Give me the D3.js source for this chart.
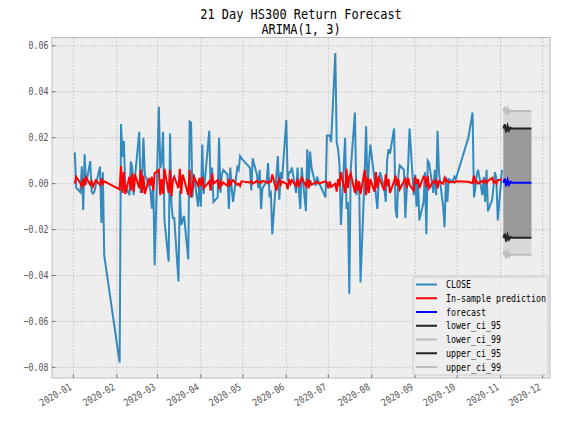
<!DOCTYPE html>
<html>
<head>
<meta charset="utf-8">
<script src="https://cdn.jsdelivr.net/npm/d3@7"></script>
<style>
  body { margin: 0; background: #fff; }
  text { font-family: "DejaVu Sans Mono", "Liberation Mono", monospace; }
</style>
</head>
<body>
<div id="chart"></div>
<script>
// trading days (day of month) of 2020 and the daily CLOSE returns
const janDays = [2,3,6,7,8,9,10,13,14,15,16,17,20,21,22,23];
const janClose = [0.0136,-0.0018,-0.0038,0.0075,-0.0115,0.0128,-0.0004,0.0098,-0.0034,-0.0043,-0.0035,-0.0006,0.0074,-0.0171,0.0050,-0.0313];
const febDays = [3,4,5,6,7,10,11,12,13,14,17,18,19,20,21,24,25,26,27,28];
const febClose = [-0.0779,0.0260,0.0118,0.0186,-0.0010,-0.0050,0.0096,0.0070,-0.0050,0.0030,0.0226,-0.0040,0.0020,0.0200,0.0040,-0.0010,-0.0030,-0.0109,0.0009,-0.0355];
const marDays = [2,3,4,5,6,9,10,11,12,13,16,17,18,19,20,23,24,25,26,27,30,31];
const marClose = [0.0335,0.0067,0.0096,0.0226,-0.0160,-0.0340,0.0218,-0.0090,-0.0150,-0.0150,-0.0426,-0.0030,-0.0180,-0.0160,-0.0140,-0.0330,0.0270,0.0265,-0.0060,0.0040,-0.0100,0.0010];
const aprDays = [1,2,3,7,8,9,10,13,14,15,16,17,20,21,22,23,24,27,28,29,30];
const aprClose = [-0.0100,0.0170,-0.0045,0.0230,-0.0030,0.0070,-0.0080,-0.0060,0.0200,-0.0040,0.0040,0.0060,0.0040,-0.0110,0.0070,-0.0020,-0.0080,0.0070,0.0060,0.0120,0.0110];
const mayDays = [6,7,8,11,12,13,14,15,18,19,20,21,22,25,26,27,28,29];
const mayClose = [0.0070,-0.0030,0.0110,0.0040,-0.0020,0.0060,-0.0110,-0.0020,0.0010,0.0090,-0.0050,-0.0040,-0.0220,0.0040,0.0120,-0.0070,0.0050,0.0020];
const junDays = [1,2,3,4,5,8,9,10,11,12,15,16,17,18,19,22,23,24,29,30];
const junClose = [0.0277,0.0010,0.0050,0.0050,0.0070,-0.0040,0.0070,-0.0030,-0.0110,0.0070,-0.0120,0.0150,-0.0010,0.0140,0.0070,-0.0010,0.0030,0.0010,-0.0060,0.0210];
const julDays = [1,2,3,6,7,8,9,10,13,14,15,16,17,20,21,22,23,24,27,28,29,30,31];
const julClose = [0.0210,0.0210,0.0180,0.0569,0.0180,0.0150,0.0080,-0.0180,0.0200,-0.0110,-0.0080,-0.0480,0.0060,0.0310,-0.0050,-0.0010,0.0010,-0.0430,0.0050,0.0250,-0.0035,0.0080,0.0170];
const augDays = [3,4,5,6,7,10,11,12,13,14,17,18,19,20,21,24,25,26,27,28,31];
const augClose = [0.0020,-0.0050,-0.0110,0.0010,0.0050,-0.0020,-0.0080,0.0100,0.0150,0.0130,0.0240,-0.0110,-0.0150,0.0030,0.0080,0.0060,-0.0150,-0.0030,0.0080,0.0240,-0.0050];
const sepDays = [1,2,3,4,7,8,9,10,11,14,15,16,17,18,21,22,23,24,25,28,29,30];
const sepClose = [0.0040,-0.0100,0.0020,-0.0160,-0.0080,0.0050,-0.0220,0.0100,0.0090,-0.0040,0.0060,-0.0050,0.0230,0.0050,-0.0100,-0.0190,0.0030,-0.0080,0.0020,0.0010,0.0030,0.0020];
const octDays = [9,12,13,14,15,16,19,20,21,22,23,26,27,28,29,30];
const octClose = [0.0200,0.0310,-0.0060,-0.0020,0.0040,0.0060,-0.0050,0.0030,-0.0080,0.0060,-0.0120,-0.0070,-0.0010,0.0050,0.0020,-0.0160];
const novDays = [2];
const novClose = [0.0060];

// in-sample prediction, same days
const janPred = [0.0000,0.0030,0.0002,-0.0012,0.0022,-0.0008,0.0028,-0.0005,0.0010,-0.0012,0.0002,0.0015,-0.0006,0.0022,0.0000,0.0010];
const febPred = [-0.0025,0.0077,-0.0040,0.0050,-0.0045,0.0030,-0.0030,0.0045,-0.0035,0.0040,-0.0020,0.0060,-0.0040,0.0035,-0.0045,0.0025,-0.0010,0.0030,-0.0030,0.0045];
const marPred = [0.0060,-0.0050,0.0020,-0.0045,0.0065,-0.0040,0.0060,-0.0055,0.0015,0.0030,-0.0020,0.0065,-0.0045,0.0040,0.0020,-0.0050,0.0060,-0.0060,-0.0020,0.0030,-0.0010,0.0025];
const aprPred = [-0.0010,0.0030,-0.0020,0.0010,-0.0030,0.0045,0.0000,0.0015,-0.0025,0.0010,-0.0005,0.0005,-0.0010,0.0020,-0.0010,0.0010,0.0015,-0.0005,0.0000,-0.0010,0.0010];
const mayPred = [0.0005,0.0010,0.0000,0.0012,0.0005,0.0008,0.0004,0.0012,0.0006,0.0002,0.0010,0.0008,0.0040,-0.0030,0.0005,0.0020,-0.0005,0.0010];
const junPred = [0.0000,-0.0025,0.0020,0.0000,0.0015,-0.0010,0.0020,-0.0015,0.0010,0.0025,-0.0010,0.0020,-0.0020,0.0015,-0.0005,0.0005,0.0008,0.0000,0.0010,0.0005];
const julPred = [-0.0020,0.0010,-0.0015,0.0000,-0.0035,0.0020,-0.0010,0.0050,-0.0040,0.0065,-0.0020,0.0030,0.0045,-0.0040,0.0020,-0.0030,0.0010,-0.0045,0.0060,-0.0050,0.0030,-0.0040,0.0020];
const augPred = [-0.0035,0.0050,-0.0020,0.0025,0.0015,-0.0030,0.0040,-0.0010,0.0020,-0.0040,0.0010,0.0035,-0.0010,0.0020,-0.0025,0.0010,0.0020,-0.0020,0.0025,-0.0005,-0.0030];
const sepPred = [0.0030,0.0000,0.0020,-0.0020,0.0030,0.0025,-0.0015,0.0035,-0.0020,0.0010,0.0005,0.0015,-0.0020,0.0010,0.0000,0.0025,0.0010,0.0015,0.0005,0.0008,0.0005,0.0010];
const octPred = [0.0008,0.0002,0.0035,0.0005,0.0010,0.0000,0.0012,0.0005,0.0015,0.0002,0.0012,0.0025,0.0005,0.0010,0.0000,0.0015];
const novPred = [0.0018];

// 21 day forecast (November) with confidence bounds
const fcDays = [3,4,5,6,7,8,9,10,11,12,13,14,15,16,17,18,19,20,21,22,23];
const forecast = [0.0004,0.0022,-0.0012,0.0016,-0.0004,0.0008,0.0004,0.0004,0.0004,0.0004,0.0004,0.0004,0.0004,0.0004,0.0004,0.0004,0.0004,0.0004,0.0004,0.0004,0.0004];
const lower95 = [-0.0236,-0.0218,-0.0252,-0.0224,-0.0244,-0.0232,-0.0236,-0.0236,-0.0236,-0.0236,-0.0236,-0.0236,-0.0236,-0.0236,-0.0236,-0.0236,-0.0236,-0.0236,-0.0236,-0.0236,-0.0236];
const upper95 = [0.0240,0.0258,0.0224,0.0252,0.0232,0.0244,0.0240,0.0240,0.0240,0.0240,0.0240,0.0240,0.0240,0.0240,0.0240,0.0240,0.0240,0.0240,0.0240,0.0240,0.0240];
const lower99 = [-0.0310,-0.0292,-0.0326,-0.0298,-0.0318,-0.0306,-0.0310,-0.0310,-0.0310,-0.0310,-0.0310,-0.0310,-0.0310,-0.0310,-0.0310,-0.0310,-0.0310,-0.0310,-0.0310,-0.0310,-0.0310];
const upper99 = [0.0316,0.0334,0.0300,0.0328,0.0308,0.0320,0.0316,0.0316,0.0316,0.0316,0.0316,0.0316,0.0316,0.0316,0.0316,0.0316,0.0316,0.0316,0.0316,0.0316,0.0316];

const xLimits = ["2019-12-16T17:00", "2020-12-06T07:00"];
const yTicks = [-0.08,-0.06,-0.04,-0.02,0.00,0.02,0.04,0.06];
const titleLines = ["21 Day HS300 Return Forecast", "ARIMA(1, 3)"];
const legendLabels = ["CLOSE","In-sample prediction","forecast","lower_ci_95","lower_ci_99","upper_ci_95","upper_ci_99"];

// build the series
const monthDays = [janDays,febDays,marDays,aprDays,mayDays,junDays,julDays,augDays,sepDays,octDays,novDays];
const monthClose = [janClose,febClose,marClose,aprClose,mayClose,junClose,julClose,augClose,sepClose,octClose,novClose];
const monthPred = [janPred,febPred,marPred,aprPred,mayPred,junPred,julPred,augPred,sepPred,octPred,novPred];
let closeData = [], predData = [];
monthDays.forEach(function (days, m) {
  days.forEach(function (d, i) {
    let dt = new Date(2020, m, d);
    closeData.push({ date: dt, value: monthClose[m][i] });
    predData.push({ date: dt, value: monthPred[m][i] });
  });
});
let fcData = fcDays.map(function (d, i) {
  return { date: new Date(2020, 10, d), fc: forecast[i], lo95: lower95[i], hi95: upper95[i], lo99: lower99[i], hi99: upper99[i] };
});

// dimensions
let margin = { top: 37.5, right: 26, bottom: 44, left: 52 },
  w = 576 - margin.left - margin.right,
  h = 422 - margin.top - margin.bottom;

let svg = d3.select("#chart").append("svg")
  .attr("width", 576).attr("height", 422);
let g = svg.append("g")
  .attr("transform", "translate(" + margin.left + "," + margin.top + ")");

// half-width glyphs like the original CJK font
function mono(sel, size) {
  sel.attr("font-size", size)
    .attr("textLength", function () { return this.textContent.length * size * 0.5; })
    .attr("lengthAdjust", "spacingAndGlyphs");
}

// scales
let x = d3.scaleTime()
  .domain(xLimits.map(s => new Date(s)))
  .range([0, w]);
let allVals = closeData.map(d => d.value).concat(lower99, upper99);
let yExt = d3.extent(allVals), yPad = (yExt[1] - yExt[0]) * 0.05;
let y = d3.scaleLinear()
  .domain([yExt[0] - yPad, yExt[1] + yPad])
  .range([h, 0]);

// background
g.append("rect").attr("width", w).attr("height", h).attr("fill", "#eeeeee");

let xTicks = d3.timeMonth.range(new Date(2020, 0, 1), new Date(2020, 11, 2));

// grid
g.append("g").selectAll("line").data(xTicks).enter().append("line")
  .attr("x1", d => x(d)).attr("x2", d => x(d)).attr("y1", 0).attr("y2", h)
  .attr("stroke", "#b2b2b2").attr("stroke-width", 0.6).attr("stroke-dasharray", "2,1.5");
g.append("g").selectAll("line").data(yTicks).enter().append("line")
  .attr("y1", d => y(d)).attr("y2", d => y(d)).attr("x1", 0).attr("x2", w)
  .attr("stroke", "#b2b2b2").attr("stroke-width", 0.6).attr("stroke-dasharray", "2,1.5");

// confidence bands
g.append("path").datum(fcData)
  .attr("fill", "#d8d8d8")
  .attr("d", d3.area().x(d => x(d.date)).y0(d => y(d.lo99)).y1(d => y(d.hi99)));
g.append("path").datum(fcData)
  .attr("fill", "#999999")
  .attr("d", d3.area().x(d => x(d.date)).y0(d => y(d.lo95)).y1(d => y(d.hi95)));

// lines
let line = d3.line().x(d => x(d.date)).y(d => y(d.value));
let colors = ["#348ABD", "#ff0000", "#0000ff", "#222222", "#bdbdbd", "#222222", "#bdbdbd"];
g.append("path").datum(closeData).attr("fill", "none").attr("stroke", colors[0]).attr("stroke-width", 2).attr("d", line);
g.append("path").datum(predData).attr("fill", "none").attr("stroke", colors[1]).attr("stroke-width", 2).attr("d", line);
let fcKeys = ["fc", "lo95", "lo99", "hi95", "hi99"];
fcKeys.forEach(function (k, i) {
  g.append("path").datum(fcData).attr("fill", "none")
    .attr("stroke", colors[i + 2]).attr("stroke-width", 2)
    .attr("d", d3.line().x(d => x(d.date)).y(d => y(d[k])));
});

// frame
g.append("rect").attr("width", w).attr("height", h)
  .attr("fill", "none").attr("stroke", "#bcbcbc").attr("stroke-width", 1);

// x axis ticks and labels
let fmtX = d3.timeFormat("%Y-%m");
g.append("g").selectAll("line").data(xTicks).enter().append("line")
  .attr("x1", d => x(d)).attr("x2", d => x(d)).attr("y1", h).attr("y2", h - 3.5)
  .attr("stroke", "#555").attr("stroke-width", 0.8);
g.append("g").selectAll("text").data(xTicks).enter().append("text")
  .attr("transform", d => "translate(" + (x(d) - 1) + "," + (h + 11) + ") rotate(-30)")
  .attr("text-anchor", "end").attr("fill", "#555")
  .text(d => fmtX(d))
  .call(mono, 10);

// y axis ticks and labels
let fmtY = d3.format(".2f");
g.append("g").selectAll("line").data(yTicks).enter().append("line")
  .attr("y1", d => y(d)).attr("y2", d => y(d)).attr("x1", 0).attr("x2", 3.5)
  .attr("stroke", "#555").attr("stroke-width", 0.8);
g.append("g").selectAll("text").data(yTicks).enter().append("text")
  .attr("x", -3.5).attr("y", d => y(d)).attr("dy", "0.35em")
  .attr("text-anchor", "end").attr("fill", "#555")
  .text(d => fmtY(d).replace("-", "\u2212"))
  .call(mono, 10);

// title
svg.append("g").selectAll("text").data(titleLines).enter().append("text")
  .attr("x", margin.left + w / 2).attr("y", (d, i) => 19 + i * 14.5)
  .attr("text-anchor", "middle").attr("fill", "#000")
  .text(d => d)
  .call(mono, 14.4);

// legend
let lg = g.append("g").attr("transform", "translate(" + (w - 137) + "," + (h - 101) + ")");
lg.append("rect").attr("width", 135).attr("height", 98).attr("rx", 2)
  .attr("fill", "#eeeeee").attr("fill-opacity", 0.8).attr("stroke", "#cccccc");
let rows = lg.selectAll("g.row").data(legendLabels).enter().append("g")
  .attr("transform", (d, i) => "translate(0," + (7.5 + i * 13.75) + ")");
rows.append("line").attr("x1", 3).attr("x2", 24).attr("y1", 0).attr("y2", 0)
  .attr("stroke", (d, i) => colors[i]).attr("stroke-width", 2);
rows.append("text").attr("x", 33).attr("dy", "0.35em").attr("fill", "#000")
  .text(d => d).call(mono, 10);
</script>
</body>
</html>
